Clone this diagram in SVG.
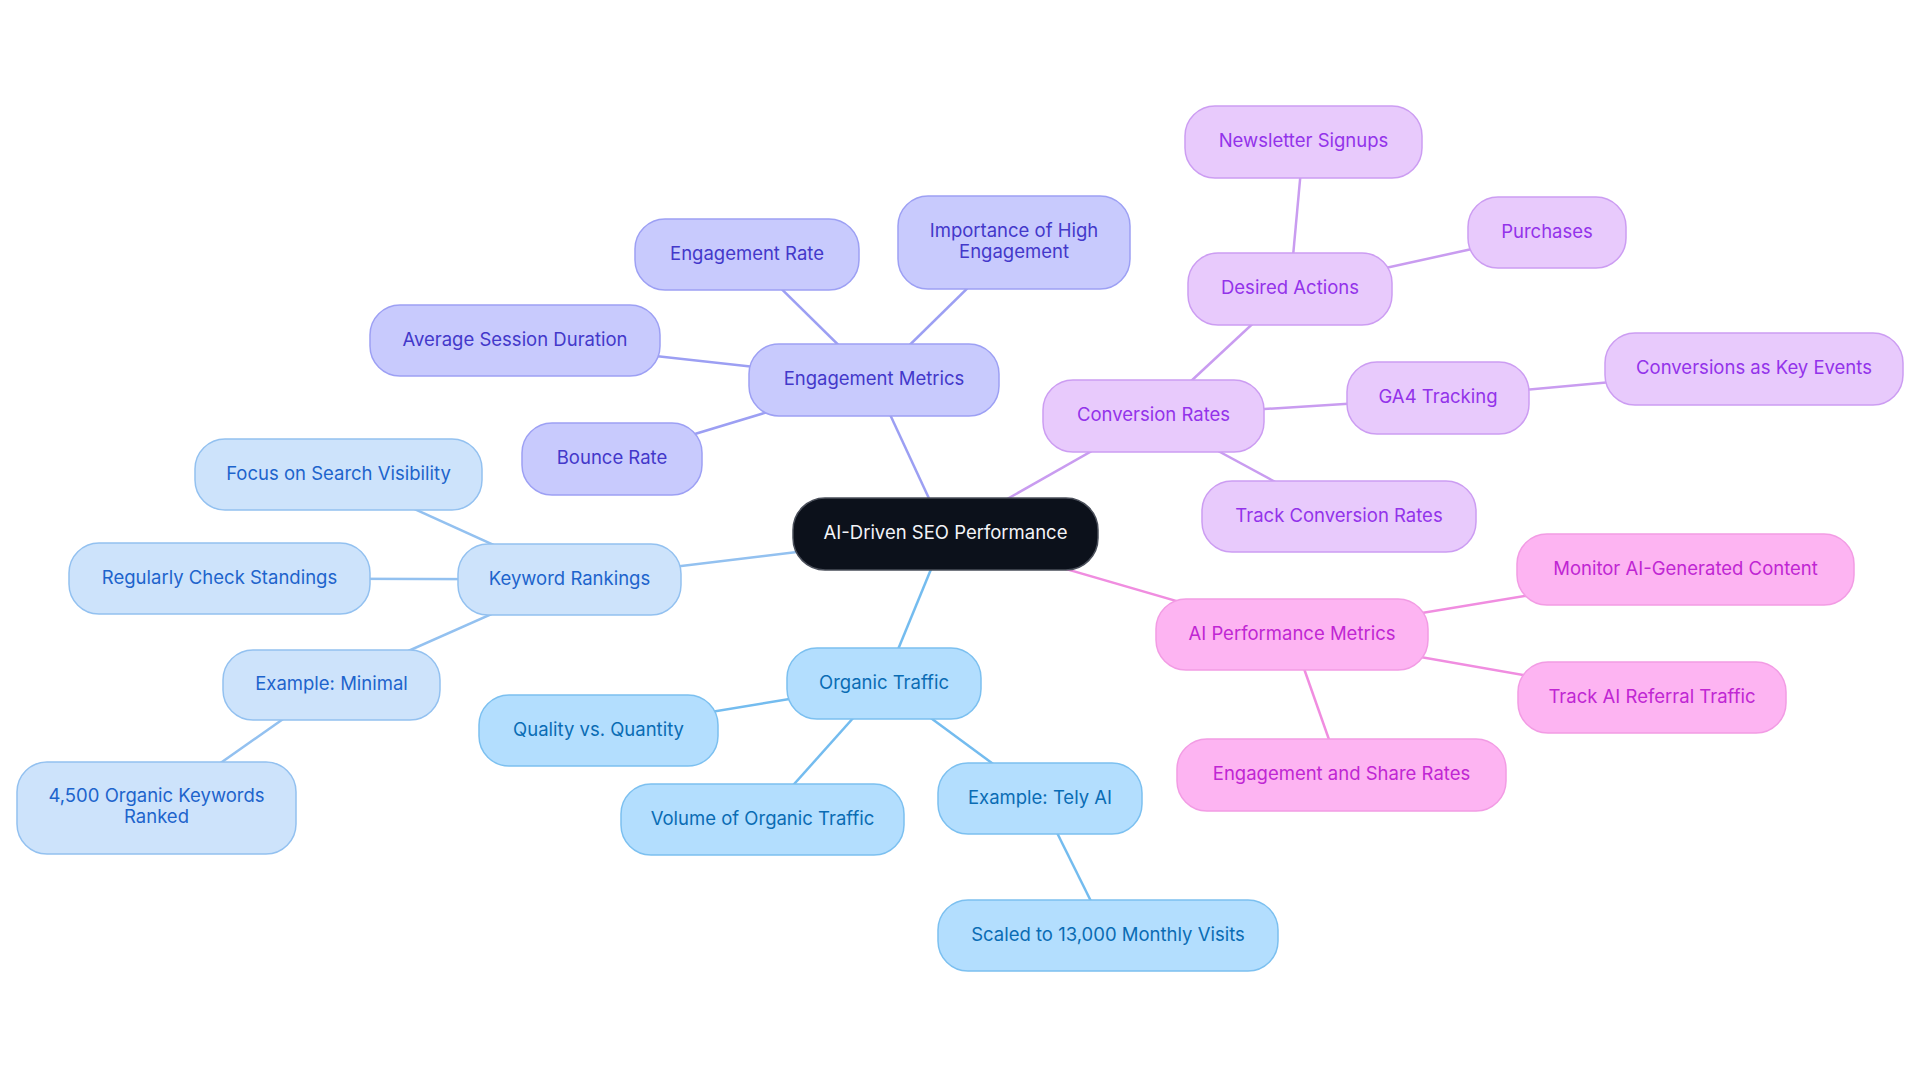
<svg xmlns="http://www.w3.org/2000/svg" width="1920" height="1083" viewBox="0 0 1920 1083">
<style>
text{font-family:Inter,"Noto Sans","Liberation Sans",sans-serif;font-size:18.5px;text-anchor:middle;dominant-baseline:central}
.n text{transform:translateY(-2px)}
.n rect{stroke-width:1.5}
.c0 rect{fill:#0c111b;stroke:#4a4f5a}.c0 text{fill:#f3f4f8}
.ce rect{fill:#c8cafd;stroke:#9da0f4}.ce text{fill:#4338ca}
.cc rect{fill:#e8cafc;stroke:#cc9df2}.cc text{fill:#9333ea}
.cp rect{fill:#fdb4f2;stroke:#f29ce4}.cp text{fill:#c026d3}
.ck rect{fill:#cde3fb;stroke:#93c1f0}.ck text{fill:#1d64cc}
.co rect{fill:#b3defe;stroke:#7cc0f0}.co text{fill:#0a6cb4}
#edges line{stroke-width:2.5;fill:none}
.le{stroke:#9c9ff3}.lc{stroke:#c99cf0}.lp{stroke:#f08de0}.lk{stroke:#93c1f0}.lo{stroke:#74bcef}
</style>
<rect width="1920" height="1083" fill="#ffffff"/>
<g id="edges">
<line class="le" x1="945.5" y1="534" x2="874" y2="380"/>
<line class="le" x1="874" y1="380" x2="747" y2="255"/>
<line class="le" x1="874" y1="380" x2="1014" y2="242.5"/>
<line class="le" x1="874" y1="380" x2="515" y2="340.5"/>
<line class="le" x1="874" y1="380" x2="612" y2="459"/>
<line class="lc" x1="945.5" y1="534" x2="1153.5" y2="416"/>
<line class="lc" x1="1153.5" y1="416" x2="1290" y2="289"/>
<line class="lc" x1="1290" y1="289" x2="1303.5" y2="142"/>
<line class="lc" x1="1290" y1="289" x2="1547" y2="232.5"/>
<line class="lc" x1="1153.5" y1="416" x2="1438" y2="398"/>
<line class="lc" x1="1438" y1="398" x2="1754" y2="369"/>
<line class="lc" x1="1153.5" y1="416" x2="1339" y2="516.5"/>
<line class="lp" x1="945.5" y1="534" x2="1292" y2="634.5"/>
<line class="lp" x1="1292" y1="634.5" x2="1685.5" y2="569.5"/>
<line class="lp" x1="1292" y1="634.5" x2="1652" y2="697.5"/>
<line class="lp" x1="1292" y1="634.5" x2="1341.5" y2="775"/>
<line class="lk" x1="945.5" y1="534" x2="569.5" y2="579.5"/>
<line class="lk" x1="569.5" y1="579.5" x2="219.5" y2="578.5"/>
<line class="lk" x1="569.5" y1="579.5" x2="338.5" y2="474.5"/>
<line class="lk" x1="569.5" y1="579.5" x2="331.5" y2="685"/>
<line class="lk" x1="331.5" y1="685" x2="156.5" y2="808"/>
<line class="lo" x1="945.5" y1="534" x2="884" y2="683.5"/>
<line class="lo" x1="884" y1="683.5" x2="598.5" y2="730.5"/>
<line class="lo" x1="884" y1="683.5" x2="762.5" y2="819.5"/>
<line class="lo" x1="884" y1="683.5" x2="1040" y2="798.5"/>
<line class="lo" x1="1040" y1="798.5" x2="1108" y2="935.5"/>
</g>
<g id="n-center" class="n c0"><rect x="793" y="498" width="305" height="72" rx="32"/><text x="945.5" y="534">AI-Driven SEO Performance</text></g>
<g id="n-em" class="n ce"><rect x="749" y="344" width="250" height="72" rx="30"/><text x="874" y="380">Engagement Metrics</text></g>
<g id="n-er" class="n ce"><rect x="635" y="219" width="224" height="71" rx="30"/><text x="747" y="255">Engagement Rate</text></g>
<g id="n-ihe" class="n ce"><rect x="898" y="196" width="232" height="93" rx="30"/><text x="1014" y="232">Importance of High</text><text x="1014" y="253">Engagement</text></g>
<g id="n-asd" class="n ce"><rect x="370" y="305" width="290" height="71" rx="30"/><text x="515" y="340.5">Average Session Duration</text></g>
<g id="n-br" class="n ce"><rect x="522" y="423" width="180" height="72" rx="30"/><text x="612" y="459">Bounce Rate</text></g>
<g id="n-cr" class="n cc"><rect x="1043" y="380" width="221" height="72" rx="30"/><text x="1153.5" y="416">Conversion Rates</text></g>
<g id="n-da" class="n cc"><rect x="1188" y="253" width="204" height="72" rx="30"/><text x="1290" y="289">Desired Actions</text></g>
<g id="n-ns" class="n cc"><rect x="1185" y="106" width="237" height="72" rx="30"/><text x="1303.5" y="142">Newsletter Signups</text></g>
<g id="n-pu" class="n cc"><rect x="1468" y="197" width="158" height="71" rx="30"/><text x="1547" y="232.5">Purchases</text></g>
<g id="n-ga4" class="n cc"><rect x="1347" y="362" width="182" height="72" rx="30"/><text x="1438" y="398">GA4 Tracking</text></g>
<g id="n-cke" class="n cc"><rect x="1605" y="333" width="298" height="72" rx="30"/><text x="1754" y="369">Conversions as Key Events</text></g>
<g id="n-tcr" class="n cc"><rect x="1202" y="481" width="274" height="71" rx="30"/><text x="1339" y="516.5">Track Conversion Rates</text></g>
<g id="n-aip" class="n cp"><rect x="1156" y="599" width="272" height="71" rx="30"/><text x="1292" y="634.5">AI Performance Metrics</text></g>
<g id="n-mag" class="n cp"><rect x="1517" y="534" width="337" height="71" rx="30"/><text x="1685.5" y="569.5">Monitor AI-Generated Content</text></g>
<g id="n-tar" class="n cp"><rect x="1518" y="662" width="268" height="71" rx="30"/><text x="1652" y="697.5">Track AI Referral Traffic</text></g>
<g id="n-esr" class="n cp"><rect x="1177" y="739" width="329" height="72" rx="30"/><text x="1341.5" y="775">Engagement and Share Rates</text></g>
<g id="n-kr" class="n ck"><rect x="458" y="544" width="223" height="71" rx="30"/><text x="569.5" y="579.5">Keyword Rankings</text></g>
<g id="n-rcs" class="n ck"><rect x="69" y="543" width="301" height="71" rx="30"/><text x="219.5" y="578.5">Regularly Check Standings</text></g>
<g id="n-fsv" class="n ck"><rect x="195" y="439" width="287" height="71" rx="30"/><text x="338.5" y="474.5">Focus on Search Visibility</text></g>
<g id="n-exm" class="n ck"><rect x="223" y="650" width="217" height="70" rx="30"/><text x="331.5" y="685">Example: Minimal</text></g>
<g id="n-okr" class="n ck"><rect x="17" y="762" width="279" height="92" rx="30"/><text x="156.5" y="797">4,500 Organic Keywords</text><text x="156.5" y="818">Ranked</text></g>
<g id="n-ot" class="n co"><rect x="787" y="648" width="194" height="71" rx="30"/><text x="884" y="683.5">Organic Traffic</text></g>
<g id="n-qq" class="n co"><rect x="479" y="695" width="239" height="71" rx="30"/><text x="598.5" y="730.5">Quality vs. Quantity</text></g>
<g id="n-vot" class="n co"><rect x="621" y="784" width="283" height="71" rx="30"/><text x="762.5" y="819.5">Volume of Organic Traffic</text></g>
<g id="n-eta" class="n co"><rect x="938" y="763" width="204" height="71" rx="30"/><text x="1040" y="798.5">Example: Tely AI</text></g>
<g id="n-s13" class="n co"><rect x="938" y="900" width="340" height="71" rx="30"/><text x="1108" y="935.5">Scaled to 13,000 Monthly Visits</text></g>
</svg>
